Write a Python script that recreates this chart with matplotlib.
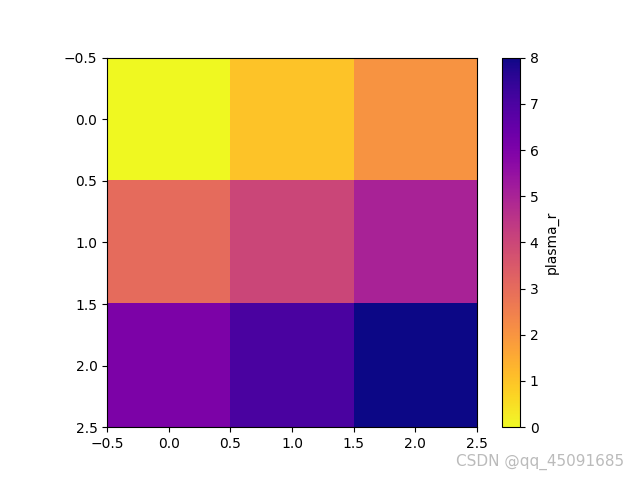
import matplotlib
matplotlib.use("Agg")
import matplotlib.pyplot as plt
import numpy as np

values = [[0, 1, 2], [3, 4, 5], [6, 7, 8]]
cmap_name = "plasma_r"

fig, ax = plt.subplots(figsize=(6.4, 4.8), dpi=100)
im = ax.imshow(np.array(values), cmap=cmap_name)
cb = fig.colorbar(im, ax=ax)
cb.set_label(cmap_name)
fig.text(0.975, 0.02, "CSDN @qq_45091685", ha="right", va="bottom",
         fontsize=11, color="#bbbbbb")
fig.savefig("out.png", dpi=100)
